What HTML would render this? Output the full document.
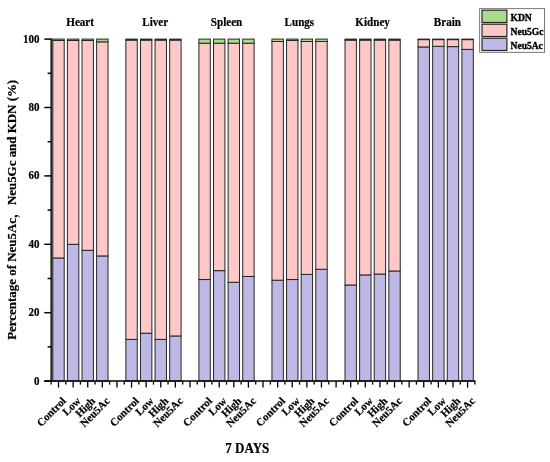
<!DOCTYPE html>
<html><head><meta charset="utf-8"><title>Chart</title>
<style>html,body{margin:0;padding:0;background:#fff;} svg{display:block;}</style>
</head><body>
<svg width="550" height="462" viewBox="0 0 550 462">
<rect x="0" y="0" width="550" height="462" fill="#fff"/>
<rect x="52.80" y="257.98" width="11.40" height="123.12" fill="#BEB8E4" stroke="#262626" stroke-width="1.0"/>
<rect x="52.80" y="40.47" width="11.40" height="217.51" fill="#FFC8C8" stroke="#262626" stroke-width="1.0"/>
<rect x="52.80" y="39.10" width="11.40" height="1.37" fill="#AADC8C" stroke="#262626" stroke-width="1.0"/>
<rect x="67.41" y="244.30" width="11.40" height="136.80" fill="#BEB8E4" stroke="#262626" stroke-width="1.0"/>
<rect x="67.41" y="40.47" width="11.40" height="203.83" fill="#FFC8C8" stroke="#262626" stroke-width="1.0"/>
<rect x="67.41" y="39.10" width="11.40" height="1.37" fill="#AADC8C" stroke="#262626" stroke-width="1.0"/>
<rect x="82.02" y="250.29" width="11.40" height="130.81" fill="#BEB8E4" stroke="#262626" stroke-width="1.0"/>
<rect x="82.02" y="40.47" width="11.40" height="209.82" fill="#FFC8C8" stroke="#262626" stroke-width="1.0"/>
<rect x="82.02" y="39.10" width="11.40" height="1.37" fill="#AADC8C" stroke="#262626" stroke-width="1.0"/>
<rect x="96.63" y="255.93" width="11.40" height="125.17" fill="#BEB8E4" stroke="#262626" stroke-width="1.0"/>
<rect x="96.63" y="41.84" width="11.40" height="214.09" fill="#FFC8C8" stroke="#262626" stroke-width="1.0"/>
<rect x="96.63" y="39.10" width="11.40" height="2.74" fill="#AADC8C" stroke="#262626" stroke-width="1.0"/>
<rect x="125.85" y="339.38" width="11.40" height="41.72" fill="#BEB8E4" stroke="#262626" stroke-width="1.0"/>
<rect x="125.85" y="40.13" width="11.40" height="299.25" fill="#FFC8C8" stroke="#262626" stroke-width="1.0"/>
<rect x="125.85" y="39.10" width="11.40" height="1.03" fill="#AADC8C" stroke="#262626" stroke-width="1.0"/>
<rect x="140.46" y="333.22" width="11.40" height="47.88" fill="#BEB8E4" stroke="#262626" stroke-width="1.0"/>
<rect x="140.46" y="40.13" width="11.40" height="293.09" fill="#FFC8C8" stroke="#262626" stroke-width="1.0"/>
<rect x="140.46" y="39.10" width="11.40" height="1.03" fill="#AADC8C" stroke="#262626" stroke-width="1.0"/>
<rect x="155.07" y="339.38" width="11.40" height="41.72" fill="#BEB8E4" stroke="#262626" stroke-width="1.0"/>
<rect x="155.07" y="40.13" width="11.40" height="299.25" fill="#FFC8C8" stroke="#262626" stroke-width="1.0"/>
<rect x="155.07" y="39.10" width="11.40" height="1.03" fill="#AADC8C" stroke="#262626" stroke-width="1.0"/>
<rect x="169.68" y="335.96" width="11.40" height="45.14" fill="#BEB8E4" stroke="#262626" stroke-width="1.0"/>
<rect x="169.68" y="40.13" width="11.40" height="295.83" fill="#FFC8C8" stroke="#262626" stroke-width="1.0"/>
<rect x="169.68" y="39.10" width="11.40" height="1.03" fill="#AADC8C" stroke="#262626" stroke-width="1.0"/>
<rect x="198.90" y="279.53" width="11.40" height="101.57" fill="#BEB8E4" stroke="#262626" stroke-width="1.0"/>
<rect x="198.90" y="43.20" width="11.40" height="236.32" fill="#FFC8C8" stroke="#262626" stroke-width="1.0"/>
<rect x="198.90" y="39.10" width="11.40" height="4.10" fill="#AADC8C" stroke="#262626" stroke-width="1.0"/>
<rect x="213.51" y="270.63" width="11.40" height="110.47" fill="#BEB8E4" stroke="#262626" stroke-width="1.0"/>
<rect x="213.51" y="43.20" width="11.40" height="227.43" fill="#FFC8C8" stroke="#262626" stroke-width="1.0"/>
<rect x="213.51" y="39.10" width="11.40" height="4.10" fill="#AADC8C" stroke="#262626" stroke-width="1.0"/>
<rect x="228.12" y="282.26" width="11.40" height="98.84" fill="#BEB8E4" stroke="#262626" stroke-width="1.0"/>
<rect x="228.12" y="43.20" width="11.40" height="239.06" fill="#FFC8C8" stroke="#262626" stroke-width="1.0"/>
<rect x="228.12" y="39.10" width="11.40" height="4.10" fill="#AADC8C" stroke="#262626" stroke-width="1.0"/>
<rect x="242.73" y="276.45" width="11.40" height="104.65" fill="#BEB8E4" stroke="#262626" stroke-width="1.0"/>
<rect x="242.73" y="43.20" width="11.40" height="233.24" fill="#FFC8C8" stroke="#262626" stroke-width="1.0"/>
<rect x="242.73" y="39.10" width="11.40" height="4.10" fill="#AADC8C" stroke="#262626" stroke-width="1.0"/>
<rect x="271.95" y="280.21" width="11.40" height="100.89" fill="#BEB8E4" stroke="#262626" stroke-width="1.0"/>
<rect x="271.95" y="41.49" width="11.40" height="238.72" fill="#FFC8C8" stroke="#262626" stroke-width="1.0"/>
<rect x="271.95" y="39.10" width="11.40" height="2.39" fill="#AADC8C" stroke="#262626" stroke-width="1.0"/>
<rect x="286.56" y="279.53" width="11.40" height="101.57" fill="#BEB8E4" stroke="#262626" stroke-width="1.0"/>
<rect x="286.56" y="40.47" width="11.40" height="239.06" fill="#FFC8C8" stroke="#262626" stroke-width="1.0"/>
<rect x="286.56" y="39.10" width="11.40" height="1.37" fill="#AADC8C" stroke="#262626" stroke-width="1.0"/>
<rect x="301.17" y="274.40" width="11.40" height="106.70" fill="#BEB8E4" stroke="#262626" stroke-width="1.0"/>
<rect x="301.17" y="41.49" width="11.40" height="232.90" fill="#FFC8C8" stroke="#262626" stroke-width="1.0"/>
<rect x="301.17" y="39.10" width="11.40" height="2.39" fill="#AADC8C" stroke="#262626" stroke-width="1.0"/>
<rect x="315.78" y="269.27" width="11.40" height="111.83" fill="#BEB8E4" stroke="#262626" stroke-width="1.0"/>
<rect x="315.78" y="41.49" width="11.40" height="227.77" fill="#FFC8C8" stroke="#262626" stroke-width="1.0"/>
<rect x="315.78" y="39.10" width="11.40" height="2.39" fill="#AADC8C" stroke="#262626" stroke-width="1.0"/>
<rect x="345.00" y="285.00" width="11.40" height="96.10" fill="#BEB8E4" stroke="#262626" stroke-width="1.0"/>
<rect x="345.00" y="40.13" width="11.40" height="244.87" fill="#FFC8C8" stroke="#262626" stroke-width="1.0"/>
<rect x="345.00" y="39.10" width="11.40" height="1.03" fill="#AADC8C" stroke="#262626" stroke-width="1.0"/>
<rect x="359.61" y="274.91" width="11.40" height="106.19" fill="#BEB8E4" stroke="#262626" stroke-width="1.0"/>
<rect x="359.61" y="40.13" width="11.40" height="234.78" fill="#FFC8C8" stroke="#262626" stroke-width="1.0"/>
<rect x="359.61" y="39.10" width="11.40" height="1.03" fill="#AADC8C" stroke="#262626" stroke-width="1.0"/>
<rect x="374.22" y="274.05" width="11.40" height="107.05" fill="#BEB8E4" stroke="#262626" stroke-width="1.0"/>
<rect x="374.22" y="40.13" width="11.40" height="233.93" fill="#FFC8C8" stroke="#262626" stroke-width="1.0"/>
<rect x="374.22" y="39.10" width="11.40" height="1.03" fill="#AADC8C" stroke="#262626" stroke-width="1.0"/>
<rect x="388.83" y="270.98" width="11.40" height="110.12" fill="#BEB8E4" stroke="#262626" stroke-width="1.0"/>
<rect x="388.83" y="40.13" width="11.40" height="230.85" fill="#FFC8C8" stroke="#262626" stroke-width="1.0"/>
<rect x="388.83" y="39.10" width="11.40" height="1.03" fill="#AADC8C" stroke="#262626" stroke-width="1.0"/>
<rect x="418.05" y="46.97" width="11.40" height="334.13" fill="#BEB8E4" stroke="#262626" stroke-width="1.0"/>
<rect x="418.05" y="39.61" width="11.40" height="7.35" fill="#FFC8C8" stroke="#262626" stroke-width="1.0"/>
<rect x="418.05" y="39.10" width="11.40" height="0.51" fill="#AADC8C" stroke="#262626" stroke-width="1.0"/>
<rect x="432.66" y="46.28" width="11.40" height="334.82" fill="#BEB8E4" stroke="#262626" stroke-width="1.0"/>
<rect x="432.66" y="39.61" width="11.40" height="6.67" fill="#FFC8C8" stroke="#262626" stroke-width="1.0"/>
<rect x="432.66" y="39.10" width="11.40" height="0.51" fill="#AADC8C" stroke="#262626" stroke-width="1.0"/>
<rect x="447.27" y="46.62" width="11.40" height="334.48" fill="#BEB8E4" stroke="#262626" stroke-width="1.0"/>
<rect x="447.27" y="39.61" width="11.40" height="7.01" fill="#FFC8C8" stroke="#262626" stroke-width="1.0"/>
<rect x="447.27" y="39.10" width="11.40" height="0.51" fill="#AADC8C" stroke="#262626" stroke-width="1.0"/>
<rect x="461.88" y="49.36" width="11.40" height="331.74" fill="#BEB8E4" stroke="#262626" stroke-width="1.0"/>
<rect x="461.88" y="39.61" width="11.40" height="9.75" fill="#FFC8C8" stroke="#262626" stroke-width="1.0"/>
<rect x="461.88" y="39.10" width="11.40" height="0.51" fill="#AADC8C" stroke="#262626" stroke-width="1.0"/>
<line x1="51.40" y1="38.60" x2="51.40" y2="381.85" stroke="#2a2a28" stroke-width="2.1"/>
<line x1="44.3" y1="381.10" x2="475.38" y2="381.10" stroke="#000" stroke-width="1.5"/>
<line x1="44.3" y1="381.10" x2="51.20" y2="381.10" stroke="#000" stroke-width="1.5"/>
<text x="0" y="0" text-anchor="end" font-size="11" transform="translate(39.6 384.55) scale(1 1.07)" font-family="'Liberation Serif','Noto Serif CJK SC','Noto Sans CJK SC',serif" font-weight="bold" stroke="#000" stroke-width="0.2">0</text>
<line x1="47.6" y1="346.90" x2="51.20" y2="346.90" stroke="#000" stroke-width="1.5"/>
<line x1="44.3" y1="312.70" x2="51.20" y2="312.70" stroke="#000" stroke-width="1.5"/>
<text x="0" y="0" text-anchor="end" font-size="11" transform="translate(39.6 316.15) scale(1 1.07)" font-family="'Liberation Serif','Noto Serif CJK SC','Noto Sans CJK SC',serif" font-weight="bold" stroke="#000" stroke-width="0.2">20</text>
<line x1="47.6" y1="278.50" x2="51.20" y2="278.50" stroke="#000" stroke-width="1.5"/>
<line x1="44.3" y1="244.30" x2="51.20" y2="244.30" stroke="#000" stroke-width="1.5"/>
<text x="0" y="0" text-anchor="end" font-size="11" transform="translate(39.6 247.75) scale(1 1.07)" font-family="'Liberation Serif','Noto Serif CJK SC','Noto Sans CJK SC',serif" font-weight="bold" stroke="#000" stroke-width="0.2">40</text>
<line x1="47.6" y1="210.10" x2="51.20" y2="210.10" stroke="#000" stroke-width="1.5"/>
<line x1="44.3" y1="175.90" x2="51.20" y2="175.90" stroke="#000" stroke-width="1.5"/>
<text x="0" y="0" text-anchor="end" font-size="11" transform="translate(39.6 179.35) scale(1 1.07)" font-family="'Liberation Serif','Noto Serif CJK SC','Noto Sans CJK SC',serif" font-weight="bold" stroke="#000" stroke-width="0.2">60</text>
<line x1="47.6" y1="141.70" x2="51.20" y2="141.70" stroke="#000" stroke-width="1.5"/>
<line x1="44.3" y1="107.50" x2="51.20" y2="107.50" stroke="#000" stroke-width="1.5"/>
<text x="0" y="0" text-anchor="end" font-size="11" transform="translate(39.6 110.95) scale(1 1.07)" font-family="'Liberation Serif','Noto Serif CJK SC','Noto Sans CJK SC',serif" font-weight="bold" stroke="#000" stroke-width="0.2">80</text>
<line x1="47.6" y1="73.30" x2="51.20" y2="73.30" stroke="#000" stroke-width="1.5"/>
<line x1="44.3" y1="39.10" x2="51.20" y2="39.10" stroke="#000" stroke-width="1.5"/>
<text x="0" y="0" text-anchor="end" font-size="11" transform="translate(39.6 42.55) scale(1 1.07)" font-family="'Liberation Serif','Noto Serif CJK SC','Noto Sans CJK SC',serif" font-weight="bold" stroke="#000" stroke-width="0.2">100</text>
<line x1="58.50" y1="381.10" x2="58.50" y2="387.60" stroke="#000" stroke-width="1.3"/>
<line x1="73.11" y1="381.10" x2="73.11" y2="387.60" stroke="#000" stroke-width="1.3"/>
<line x1="87.72" y1="381.10" x2="87.72" y2="387.60" stroke="#000" stroke-width="1.3"/>
<line x1="102.33" y1="381.10" x2="102.33" y2="387.60" stroke="#000" stroke-width="1.3"/>
<line x1="116.94" y1="381.10" x2="116.94" y2="387.60" stroke="#000" stroke-width="1.3"/>
<line x1="131.55" y1="381.10" x2="131.55" y2="387.60" stroke="#000" stroke-width="1.3"/>
<line x1="146.16" y1="381.10" x2="146.16" y2="387.60" stroke="#000" stroke-width="1.3"/>
<line x1="160.77" y1="381.10" x2="160.77" y2="387.60" stroke="#000" stroke-width="1.3"/>
<line x1="175.38" y1="381.10" x2="175.38" y2="387.60" stroke="#000" stroke-width="1.3"/>
<line x1="189.99" y1="381.10" x2="189.99" y2="387.60" stroke="#000" stroke-width="1.3"/>
<line x1="204.60" y1="381.10" x2="204.60" y2="387.60" stroke="#000" stroke-width="1.3"/>
<line x1="219.21" y1="381.10" x2="219.21" y2="387.60" stroke="#000" stroke-width="1.3"/>
<line x1="233.82" y1="381.10" x2="233.82" y2="387.60" stroke="#000" stroke-width="1.3"/>
<line x1="248.43" y1="381.10" x2="248.43" y2="387.60" stroke="#000" stroke-width="1.3"/>
<line x1="263.04" y1="381.10" x2="263.04" y2="387.60" stroke="#000" stroke-width="1.3"/>
<line x1="277.65" y1="381.10" x2="277.65" y2="387.60" stroke="#000" stroke-width="1.3"/>
<line x1="292.26" y1="381.10" x2="292.26" y2="387.60" stroke="#000" stroke-width="1.3"/>
<line x1="306.87" y1="381.10" x2="306.87" y2="387.60" stroke="#000" stroke-width="1.3"/>
<line x1="321.48" y1="381.10" x2="321.48" y2="387.60" stroke="#000" stroke-width="1.3"/>
<line x1="336.09" y1="381.10" x2="336.09" y2="387.60" stroke="#000" stroke-width="1.3"/>
<line x1="350.70" y1="381.10" x2="350.70" y2="387.60" stroke="#000" stroke-width="1.3"/>
<line x1="365.31" y1="381.10" x2="365.31" y2="387.60" stroke="#000" stroke-width="1.3"/>
<line x1="379.92" y1="381.10" x2="379.92" y2="387.60" stroke="#000" stroke-width="1.3"/>
<line x1="394.53" y1="381.10" x2="394.53" y2="387.60" stroke="#000" stroke-width="1.3"/>
<line x1="409.14" y1="381.10" x2="409.14" y2="387.60" stroke="#000" stroke-width="1.3"/>
<line x1="423.75" y1="381.10" x2="423.75" y2="387.60" stroke="#000" stroke-width="1.3"/>
<line x1="438.36" y1="381.10" x2="438.36" y2="387.60" stroke="#000" stroke-width="1.3"/>
<line x1="452.97" y1="381.10" x2="452.97" y2="387.60" stroke="#000" stroke-width="1.3"/>
<line x1="467.58" y1="381.10" x2="467.58" y2="387.60" stroke="#000" stroke-width="1.3"/>
<line x1="51.20" y1="381.10" x2="51.20" y2="384.60" stroke="#000" stroke-width="1.3"/>
<line x1="65.81" y1="381.10" x2="65.81" y2="384.60" stroke="#000" stroke-width="1.3"/>
<line x1="80.41" y1="381.10" x2="80.41" y2="384.60" stroke="#000" stroke-width="1.3"/>
<line x1="95.03" y1="381.10" x2="95.03" y2="384.60" stroke="#000" stroke-width="1.3"/>
<line x1="109.63" y1="381.10" x2="109.63" y2="384.60" stroke="#000" stroke-width="1.3"/>
<line x1="124.25" y1="381.10" x2="124.25" y2="384.60" stroke="#000" stroke-width="1.3"/>
<line x1="138.85" y1="381.10" x2="138.85" y2="384.60" stroke="#000" stroke-width="1.3"/>
<line x1="153.47" y1="381.10" x2="153.47" y2="384.60" stroke="#000" stroke-width="1.3"/>
<line x1="168.07" y1="381.10" x2="168.07" y2="384.60" stroke="#000" stroke-width="1.3"/>
<line x1="182.69" y1="381.10" x2="182.69" y2="384.60" stroke="#000" stroke-width="1.3"/>
<line x1="197.29" y1="381.10" x2="197.29" y2="384.60" stroke="#000" stroke-width="1.3"/>
<line x1="211.90" y1="381.10" x2="211.90" y2="384.60" stroke="#000" stroke-width="1.3"/>
<line x1="226.51" y1="381.10" x2="226.51" y2="384.60" stroke="#000" stroke-width="1.3"/>
<line x1="241.12" y1="381.10" x2="241.12" y2="384.60" stroke="#000" stroke-width="1.3"/>
<line x1="255.73" y1="381.10" x2="255.73" y2="384.60" stroke="#000" stroke-width="1.3"/>
<line x1="270.34" y1="381.10" x2="270.34" y2="384.60" stroke="#000" stroke-width="1.3"/>
<line x1="284.95" y1="381.10" x2="284.95" y2="384.60" stroke="#000" stroke-width="1.3"/>
<line x1="299.56" y1="381.10" x2="299.56" y2="384.60" stroke="#000" stroke-width="1.3"/>
<line x1="314.18" y1="381.10" x2="314.18" y2="384.60" stroke="#000" stroke-width="1.3"/>
<line x1="328.78" y1="381.10" x2="328.78" y2="384.60" stroke="#000" stroke-width="1.3"/>
<line x1="343.39" y1="381.10" x2="343.39" y2="384.60" stroke="#000" stroke-width="1.3"/>
<line x1="358.00" y1="381.10" x2="358.00" y2="384.60" stroke="#000" stroke-width="1.3"/>
<line x1="372.61" y1="381.10" x2="372.61" y2="384.60" stroke="#000" stroke-width="1.3"/>
<line x1="387.22" y1="381.10" x2="387.22" y2="384.60" stroke="#000" stroke-width="1.3"/>
<line x1="401.83" y1="381.10" x2="401.83" y2="384.60" stroke="#000" stroke-width="1.3"/>
<line x1="416.44" y1="381.10" x2="416.44" y2="384.60" stroke="#000" stroke-width="1.3"/>
<line x1="431.06" y1="381.10" x2="431.06" y2="384.60" stroke="#000" stroke-width="1.3"/>
<line x1="445.66" y1="381.10" x2="445.66" y2="384.60" stroke="#000" stroke-width="1.3"/>
<line x1="460.27" y1="381.10" x2="460.27" y2="384.60" stroke="#000" stroke-width="1.3"/>
<line x1="474.88" y1="381.10" x2="474.88" y2="384.60" stroke="#000" stroke-width="1.3"/>
<text x="0" y="0" text-anchor="middle" font-size="11.1" transform="translate(80.11 26.1) scale(1 1.07)" font-family="'Liberation Serif','Noto Serif CJK SC','Noto Sans CJK SC',serif" font-weight="bold" stroke="#000" stroke-width="0.2">Heart</text>
<text x="0" y="0" text-anchor="middle" font-size="11.1" transform="translate(155.16 26.1) scale(1 1.07)" font-family="'Liberation Serif','Noto Serif CJK SC','Noto Sans CJK SC',serif" font-weight="bold" stroke="#000" stroke-width="0.2">Liver</text>
<text x="0" y="0" text-anchor="middle" font-size="11.1" transform="translate(226.51 26.1) scale(1 1.07)" font-family="'Liberation Serif','Noto Serif CJK SC','Noto Sans CJK SC',serif" font-weight="bold" stroke="#000" stroke-width="0.2">Spleen</text>
<text x="0" y="0" text-anchor="middle" font-size="11.1" transform="translate(299.37 26.1) scale(1 1.07)" font-family="'Liberation Serif','Noto Serif CJK SC','Noto Sans CJK SC',serif" font-weight="bold" stroke="#000" stroke-width="0.2">Lungs</text>
<text x="0" y="0" text-anchor="middle" font-size="11.1" transform="translate(372.62 26.1) scale(1 1.07)" font-family="'Liberation Serif','Noto Serif CJK SC','Noto Sans CJK SC',serif" font-weight="bold" stroke="#000" stroke-width="0.2">Kidney</text>
<text x="0" y="0" text-anchor="middle" font-size="11.1" transform="translate(447.36 26.1) scale(1 1.07)" font-family="'Liberation Serif','Noto Serif CJK SC','Noto Sans CJK SC',serif" font-weight="bold" stroke="#000" stroke-width="0.2">Brain</text>
<text x="66.70" y="401.60" text-anchor="end" font-size="10.9" transform="rotate(-45 66.70 401.60)" font-family="'Liberation Serif','Noto Serif CJK SC','Noto Sans CJK SC',serif" font-weight="bold" stroke="#000" stroke-width="0.2">Control</text>
<text x="81.31" y="401.60" text-anchor="end" font-size="10.9" transform="rotate(-45 81.31 401.60)" font-family="'Liberation Serif','Noto Serif CJK SC','Noto Sans CJK SC',serif" font-weight="bold" stroke="#000" stroke-width="0.2">Low</text>
<text x="95.92" y="401.60" text-anchor="end" font-size="10.9" transform="rotate(-45 95.92 401.60)" font-family="'Liberation Serif','Noto Serif CJK SC','Noto Sans CJK SC',serif" font-weight="bold" stroke="#000" stroke-width="0.2">High</text>
<text x="110.53" y="401.60" text-anchor="end" font-size="10.9" transform="rotate(-45 110.53 401.60)" font-family="'Liberation Serif','Noto Serif CJK SC','Noto Sans CJK SC',serif" font-weight="bold" stroke="#000" stroke-width="0.2">Neu5Ac</text>
<text x="139.75" y="401.60" text-anchor="end" font-size="10.9" transform="rotate(-45 139.75 401.60)" font-family="'Liberation Serif','Noto Serif CJK SC','Noto Sans CJK SC',serif" font-weight="bold" stroke="#000" stroke-width="0.2">Control</text>
<text x="154.36" y="401.60" text-anchor="end" font-size="10.9" transform="rotate(-45 154.36 401.60)" font-family="'Liberation Serif','Noto Serif CJK SC','Noto Sans CJK SC',serif" font-weight="bold" stroke="#000" stroke-width="0.2">Low</text>
<text x="168.97" y="401.60" text-anchor="end" font-size="10.9" transform="rotate(-45 168.97 401.60)" font-family="'Liberation Serif','Noto Serif CJK SC','Noto Sans CJK SC',serif" font-weight="bold" stroke="#000" stroke-width="0.2">High</text>
<text x="183.58" y="401.60" text-anchor="end" font-size="10.9" transform="rotate(-45 183.58 401.60)" font-family="'Liberation Serif','Noto Serif CJK SC','Noto Sans CJK SC',serif" font-weight="bold" stroke="#000" stroke-width="0.2">Neu5Ac</text>
<text x="212.80" y="401.60" text-anchor="end" font-size="10.9" transform="rotate(-45 212.80 401.60)" font-family="'Liberation Serif','Noto Serif CJK SC','Noto Sans CJK SC',serif" font-weight="bold" stroke="#000" stroke-width="0.2">Control</text>
<text x="227.41" y="401.60" text-anchor="end" font-size="10.9" transform="rotate(-45 227.41 401.60)" font-family="'Liberation Serif','Noto Serif CJK SC','Noto Sans CJK SC',serif" font-weight="bold" stroke="#000" stroke-width="0.2">Low</text>
<text x="242.02" y="401.60" text-anchor="end" font-size="10.9" transform="rotate(-45 242.02 401.60)" font-family="'Liberation Serif','Noto Serif CJK SC','Noto Sans CJK SC',serif" font-weight="bold" stroke="#000" stroke-width="0.2">High</text>
<text x="256.63" y="401.60" text-anchor="end" font-size="10.9" transform="rotate(-45 256.63 401.60)" font-family="'Liberation Serif','Noto Serif CJK SC','Noto Sans CJK SC',serif" font-weight="bold" stroke="#000" stroke-width="0.2">Neu5Ac</text>
<text x="285.85" y="401.60" text-anchor="end" font-size="10.9" transform="rotate(-45 285.85 401.60)" font-family="'Liberation Serif','Noto Serif CJK SC','Noto Sans CJK SC',serif" font-weight="bold" stroke="#000" stroke-width="0.2">Control</text>
<text x="300.46" y="401.60" text-anchor="end" font-size="10.9" transform="rotate(-45 300.46 401.60)" font-family="'Liberation Serif','Noto Serif CJK SC','Noto Sans CJK SC',serif" font-weight="bold" stroke="#000" stroke-width="0.2">Low</text>
<text x="315.07" y="401.60" text-anchor="end" font-size="10.9" transform="rotate(-45 315.07 401.60)" font-family="'Liberation Serif','Noto Serif CJK SC','Noto Sans CJK SC',serif" font-weight="bold" stroke="#000" stroke-width="0.2">High</text>
<text x="329.68" y="401.60" text-anchor="end" font-size="10.9" transform="rotate(-45 329.68 401.60)" font-family="'Liberation Serif','Noto Serif CJK SC','Noto Sans CJK SC',serif" font-weight="bold" stroke="#000" stroke-width="0.2">Neu5Ac</text>
<text x="358.90" y="401.60" text-anchor="end" font-size="10.9" transform="rotate(-45 358.90 401.60)" font-family="'Liberation Serif','Noto Serif CJK SC','Noto Sans CJK SC',serif" font-weight="bold" stroke="#000" stroke-width="0.2">Control</text>
<text x="373.51" y="401.60" text-anchor="end" font-size="10.9" transform="rotate(-45 373.51 401.60)" font-family="'Liberation Serif','Noto Serif CJK SC','Noto Sans CJK SC',serif" font-weight="bold" stroke="#000" stroke-width="0.2">Low</text>
<text x="388.12" y="401.60" text-anchor="end" font-size="10.9" transform="rotate(-45 388.12 401.60)" font-family="'Liberation Serif','Noto Serif CJK SC','Noto Sans CJK SC',serif" font-weight="bold" stroke="#000" stroke-width="0.2">High</text>
<text x="402.73" y="401.60" text-anchor="end" font-size="10.9" transform="rotate(-45 402.73 401.60)" font-family="'Liberation Serif','Noto Serif CJK SC','Noto Sans CJK SC',serif" font-weight="bold" stroke="#000" stroke-width="0.2">Neu5Ac</text>
<text x="431.95" y="401.60" text-anchor="end" font-size="10.9" transform="rotate(-45 431.95 401.60)" font-family="'Liberation Serif','Noto Serif CJK SC','Noto Sans CJK SC',serif" font-weight="bold" stroke="#000" stroke-width="0.2">Control</text>
<text x="446.56" y="401.60" text-anchor="end" font-size="10.9" transform="rotate(-45 446.56 401.60)" font-family="'Liberation Serif','Noto Serif CJK SC','Noto Sans CJK SC',serif" font-weight="bold" stroke="#000" stroke-width="0.2">Low</text>
<text x="461.17" y="401.60" text-anchor="end" font-size="10.9" transform="rotate(-45 461.17 401.60)" font-family="'Liberation Serif','Noto Serif CJK SC','Noto Sans CJK SC',serif" font-weight="bold" stroke="#000" stroke-width="0.2">High</text>
<text x="475.78" y="401.60" text-anchor="end" font-size="10.9" transform="rotate(-45 475.78 401.60)" font-family="'Liberation Serif','Noto Serif CJK SC','Noto Sans CJK SC',serif" font-weight="bold" stroke="#000" stroke-width="0.2">Neu5Ac</text>
<text x="0" y="0" font-size="13.05" transform="translate(225.3 452.5) scale(1 1.07)" font-family="'Liberation Serif','Noto Serif CJK SC','Noto Sans CJK SC',serif" font-weight="bold" stroke="#000" stroke-width="0.2">7 DAYS</text>
<text x="0" y="0" text-anchor="middle" font-size="12.93" transform="translate(15.9 209.8) rotate(-90)" font-family="'Liberation Serif','Noto Serif CJK SC','Noto Sans CJK SC',serif" font-weight="bold" stroke="#000" stroke-width="0.2">Percentage of Neu5Ac，Neu5Gc and KDN (%)</text>
<rect x="479.7" y="8.7" width="64.9" height="43.6" fill="#fff" stroke="#555" stroke-width="0.8"/>
<rect x="482.0" y="10.20" width="24.9" height="12.3" fill="#AADC8C" stroke="#262626" stroke-width="1.2"/>
<text x="510.5" y="20.90" font-size="9.55" stroke="#000" stroke-width="0.35" font-family="'Liberation Serif','Noto Serif CJK SC','Noto Sans CJK SC',serif" font-weight="bold">KDN</text>
<rect x="482.0" y="24.20" width="24.9" height="12.3" fill="#FFC8C8" stroke="#262626" stroke-width="1.2"/>
<text x="510.5" y="34.90" font-size="9.55" stroke="#000" stroke-width="0.35" font-family="'Liberation Serif','Noto Serif CJK SC','Noto Sans CJK SC',serif" font-weight="bold">Neu5Gc</text>
<rect x="482.0" y="38.20" width="24.9" height="12.3" fill="#BEB8E4" stroke="#262626" stroke-width="1.2"/>
<text x="510.5" y="48.90" font-size="9.55" stroke="#000" stroke-width="0.35" font-family="'Liberation Serif','Noto Serif CJK SC','Noto Sans CJK SC',serif" font-weight="bold">Neu5Ac</text>
</svg>
</body></html>
